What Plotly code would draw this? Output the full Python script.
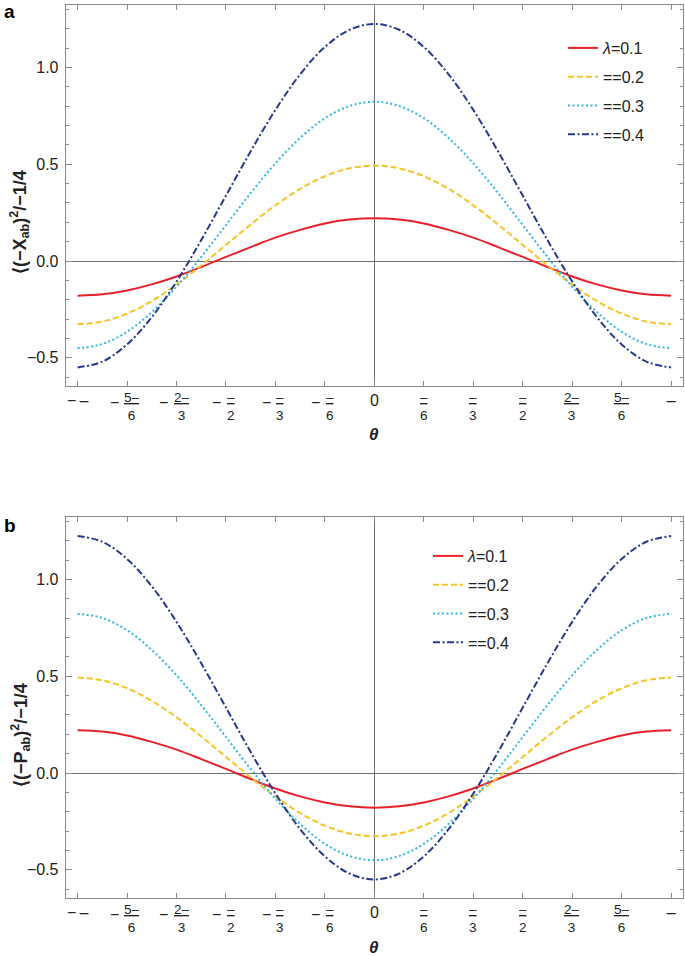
import numpy as np
import plotly.graph_objects as go

W, H = 685, 956
PI = np.pi

# theta grid: multiples of pi/12 from -pi to pi
theta_k = list(range(-12, 13))
theta = [k * PI / 12 for k in theta_k]

legend_labels = ["<i>λ</i>=0.1", "==0.2", "==0.3", "==0.4"]

# Panel a values
a_l01 = [-0.179, -0.172, -0.152, -0.121, -0.080, -0.031, 0.021, 0.072, 0.121, 0.161, 0.194, 0.214, 0.221,
         0.214, 0.194, 0.161, 0.121, 0.072, 0.021, -0.031, -0.080, -0.121, -0.152, -0.172, -0.179]
a_l02 = [-0.327, -0.313, -0.272, -0.207, -0.122, -0.023, 0.083, 0.189, 0.288, 0.373, 0.438, 0.479, 0.493,
         0.479, 0.438, 0.373, 0.288, 0.189, 0.083, -0.023, -0.122, -0.207, -0.272, -0.313, -0.327]
a_l03 = [-0.451, -0.429, -0.366, -0.264, -0.133, 0.021, 0.186, 0.351, 0.505, 0.636, 0.738, 0.801, 0.823,
         0.801, 0.738, 0.636, 0.505, 0.351, 0.186, 0.021, -0.133, -0.264, -0.366, -0.429, -0.451]
a_l04 = [-0.550, -0.520, -0.431, -0.290, -0.106, 0.108, 0.338, 0.567, 0.781, 0.965, 1.106, 1.195, 1.225,
         1.195, 1.106, 0.965, 0.781, 0.567, 0.338, 0.108, -0.106, -0.290, -0.431, -0.520, -0.550]

# Panel b values
b_l01 = [0.221, 0.214, 0.194, 0.161, 0.121, 0.072, 0.021, -0.031, -0.080, -0.121, -0.152, -0.172, -0.179,
         -0.172, -0.152, -0.121, -0.080, -0.031, 0.021, 0.072, 0.121, 0.161, 0.194, 0.214, 0.221]
b_l02 = [0.493, 0.479, 0.438, 0.373, 0.288, 0.189, 0.083, -0.023, -0.122, -0.207, -0.272, -0.313, -0.327,
         -0.313, -0.272, -0.207, -0.122, -0.023, 0.083, 0.189, 0.288, 0.373, 0.438, 0.479, 0.493]
b_l03 = [0.823, 0.801, 0.738, 0.636, 0.505, 0.351, 0.186, 0.021, -0.133, -0.264, -0.366, -0.429, -0.451,
         -0.429, -0.366, -0.264, -0.133, 0.021, 0.186, 0.351, 0.505, 0.636, 0.738, 0.801, 0.823]
b_l04 = [1.225, 1.195, 1.106, 0.965, 0.781, 0.567, 0.338, 0.108, -0.106, -0.290, -0.431, -0.520, -0.550,
         -0.520, -0.431, -0.290, -0.106, 0.108, 0.338, 0.567, 0.781, 0.965, 1.106, 1.195, 1.225]

# x tick labels (multiples of pi/6); the pi glyph renders as a dash in the original
major_mult = [-6, 0, 6]
major_text = ["−\u2009–", "0", "–"]
frac_mult = [-5, -4, -3, -2, -1, 1, 2, 3, 4, 5]
frac_num = ["5–", "2–", "–", "–", "–", "–", "–", "–", "2–", "5–"]
frac_den = ["6", "3", "2", "3", "6", "6", "3", "2", "3", "6"]

ytitle_a = "⟨(−X<sub>ab</sub>)<sup>2</sup>/−1/4"
ytitle_b = "⟨(−P<sub>ab</sub>)<sup>2</sup>/−1/4"

colors = ["#E8202A", "#F7C325", "#2EB8E6", "#26388E"]
dashes = ["solid", "6px,3px", "2px,2.5px", "7px,2.5px,2px,2.5px"]
FONT = "Liberation Sans, Arial, sans-serif"
TXT = "#222222"
AX = "#8a8a8a"

fig = go.Figure()
for i, ys in enumerate([a_l01, a_l02, a_l03, a_l04]):
    fig.add_trace(go.Scatter(x=theta, y=ys, mode="lines", name=legend_labels[i],
                             line=dict(color=colors[i], width=2, dash=dashes[i], shape="spline", smoothing=1),
                             xaxis="x", yaxis="y", legend="legend", legendgroup="a%d" % i))
for i, ys in enumerate([b_l01, b_l02, b_l03, b_l04]):
    fig.add_trace(go.Scatter(x=theta, y=ys, mode="lines", name=legend_labels[i],
                             line=dict(color=colors[i], width=2, dash=dashes[i], shape="spline", smoothing=1),
                             xaxis="x2", yaxis="y2", legend="legend2", legendgroup="b%d" % i))

xr = [-PI - 0.126, PI + 0.126]
yr = [-0.646, 1.323]

def xaxis(domain_anchor):
    return dict(range=xr, tickmode="array", tickvals=[m * PI / 6 for m in major_mult], ticktext=major_text,
                ticks="inside", ticklen=5, tickcolor=AX,
                minor=dict(tickmode="array", tickvals=[m * PI / 6 for m in frac_mult], ticks="inside",
                           ticklen=5, tickcolor=AX),
                showline=True, linecolor=AX, linewidth=1,
                mirror="ticks", zeroline=True, zerolinecolor="#6f6f6f", zerolinewidth=1, showgrid=False,
                tickfont=dict(size=16, color=TXT, family=FONT), domain=[65.7 / W, 683 / W],
                anchor=domain_anchor)

def yaxis(dom, anchor):
    return dict(range=yr, tick0=0, dtick=0.5, tickformat=".1f", ticks="inside", ticklen=6, tickcolor=AX,
                minor=dict(dtick=0.1, ticklen=3.5, ticks="inside", tickcolor=AX),
                showline=True, linecolor=AX, linewidth=1, mirror="ticks", zeroline=True,
                zerolinecolor="#6f6f6f", zerolinewidth=1, showgrid=False,
                tickfont=dict(size=16, color=TXT, family=FONT), domain=dom, anchor=anchor,
                ticklabelstandoff=3)

annotations = []
for xref, yref in [("x", "y domain"), ("x2", "y2 domain")]:
    for m, num, den in zip(frac_mult, frac_num, frac_den):
        xv = m * PI / 6
        annotations.append(dict(x=xv, y=0, xref=xref, yref=yref, text="<u>%s</u><br>%s" % (num, den),
                                showarrow=False, xanchor="center", yanchor="top", yshift=-2,
                                xshift=5 if m < 0 else 0, align="center",
                                font=dict(size=13.5, color=TXT, family=FONT)))
        if m < 0:
            annotations.append(dict(x=xv, y=0, xref=xref, yref=yref, text="−", showarrow=False,
                                    xanchor="center", yanchor="middle", yshift=-16,
                                    xshift=-13 if len(num) > 1 else -9,
                                    font=dict(size=16, color=TXT, family=FONT)))

# axis titles and panel letters
for ypx, txt in [(434, "θ"), (947, "θ")]:
    annotations.append(dict(x=374 / W, y=1 - ypx / H, xref="paper", yref="paper",
                            text="<b><i>%s</i></b>" % txt, showarrow=False, xanchor="center",
                            yanchor="middle", font=dict(size=17, color=TXT, family=FONT)))
for ypx, txt in [(222, ytitle_a), (735, ytitle_b)]:
    annotations.append(dict(x=20 / W, y=1 - ypx / H, xref="paper", yref="paper",
                            text="<b>%s</b>" % txt, showarrow=False, textangle=-90, xanchor="center",
                            yanchor="middle", font=dict(size=18, color=TXT, family=FONT)))
for ypx, txt in [(12, "a"), (525, "b")]:
    annotations.append(dict(x=2 / W, y=1 - ypx / H, xref="paper", yref="paper",
                            text="<b>%s</b>" % txt, showarrow=False, xanchor="left",
                            yanchor="middle", font=dict(size=19, color="#000", family=FONT)))

fig.update_layout(
    width=W, height=H, margin=dict(l=0, r=0, t=0, b=0),
    paper_bgcolor="white", plot_bgcolor="white", showlegend=True,
    xaxis=xaxis("y"), yaxis=yaxis([1 - 386 / H, 1 - 5 / H], "x"),
    xaxis2=xaxis("y2"), yaxis2=yaxis([1 - 898 / H, 1 - 517 / H], "x2"),
    legend=dict(x=563 / W, y=1 - 31 / H, xanchor="left", yanchor="top", bgcolor="rgba(0,0,0,0)",
                font=dict(size=16, color=TXT, family=FONT), traceorder="grouped", tracegroupgap=5),
    legend2=dict(x=428 / W, y=1 - 539 / H, xanchor="left", yanchor="top", bgcolor="rgba(0,0,0,0)",
                 font=dict(size=16, color=TXT, family=FONT), traceorder="grouped", tracegroupgap=5),
    annotations=annotations,
)

fig.write_html("out.html")
